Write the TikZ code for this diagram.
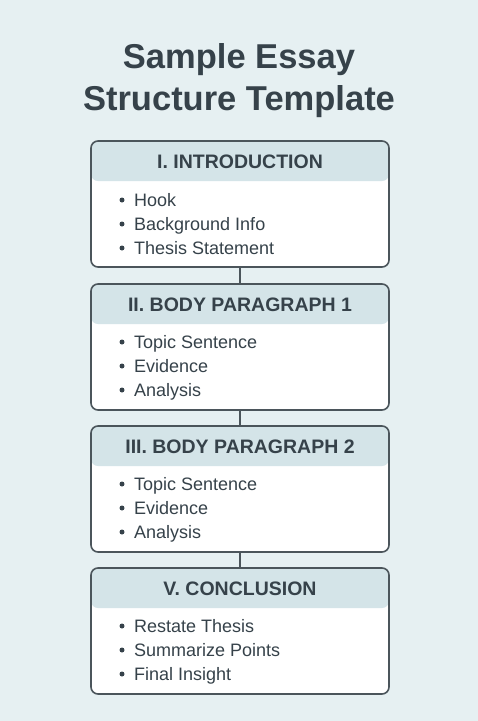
\documentclass[tikz,border=0pt]{standalone}
\usepackage{fontspec}
\setmainfont{Liberation Sans}
\definecolor{bgc}{HTML}{E6F0F2}
\definecolor{headc}{HTML}{D4E4E8}
\definecolor{borderc}{HTML}{4B555B}
\definecolor{textc}{HTML}{36424A}
\tikzset{
  essaybox/.style={draw=borderc, line width=1.6pt, fill=white, rounded corners=7pt,
    minimum width=298pt, minimum height=126pt, inner sep=0pt,
    path picture={\fill[headc] (path picture bounding box.north west) rectangle ([yshift=-40pt]path picture bounding box.north east);}},
  headtext/.style={text=textc, font=\fontsize{19.5}{21}\selectfont\bfseries, inner sep=0pt, anchor=base},
  itemtext/.style={text=textc, font=\fontsize{18}{20}\selectfont, anchor=base west, inner sep=0pt},
  bul/.style={fill=textc, circle, inner sep=0pt, minimum size=5pt},
  titletext/.style={text=textc, font=\fontsize{34.5}{42}\selectfont\bfseries, align=center, inner sep=0pt},
  link/.style={draw=borderc, line width=1.4pt}
}
\begin{document}
\begin{tikzpicture}[x=1pt,y=-1pt]
\useasboundingbox[fill=bgc] (0,0) rectangle (478,721);
\node[titletext] (title) at (239,81) {Sample Essay\\Structure Template};
% boxes
\node[essaybox] (b1) at (240,204) {};
\node[essaybox] (b2) at (240,347) {};
\node[essaybox] (b3) at (240,489) {};
\node[essaybox] (b4) at (240,631) {};
\draw[link] (b1.south) -- (b2.north);
\draw[link] (b2.south) -- (b3.north);
\draw[link] (b3.south) -- (b4.north);
% headers (baselines)
\node[headtext] (h1) at (240,168.5) {I. INTRODUCTION};
\node[headtext] (h2) at (240,311.5) {II. BODY PARAGRAPH 1};
\node[headtext] (h3) at (240,453.5) {III. BODY PARAGRAPH 2};
\node[headtext] (h4) at (240,595.5) {V. CONCLUSION};
% items box 1
\node[bul] (d11) at (122,200) {}; \node[itemtext] (i11) at (134,206.5) {Hook};
\node[bul] (d12) at (122,224) {}; \node[itemtext] (i12) at (134,230.5) {Background Info};
\node[bul] (d13) at (122,248) {}; \node[itemtext] (i13) at (134,254.5) {Thesis Statement};
% items box 2
\node[bul] (d21) at (122,342) {}; \node[itemtext] (i21) at (134,348.5) {Topic Sentence};
\node[bul] (d22) at (122,366) {}; \node[itemtext] (i22) at (134,372.5) {Evidence};
\node[bul] (d23) at (122,390) {}; \node[itemtext] (i23) at (134,396.5) {Analysis};
% items box 3
\node[bul] (d31) at (122,484) {}; \node[itemtext] (i31) at (134,490.5) {Topic Sentence};
\node[bul] (d32) at (122,508) {}; \node[itemtext] (i32) at (134,514.5) {Evidence};
\node[bul] (d33) at (122,532) {}; \node[itemtext] (i33) at (134,538.5) {Analysis};
% items box 4
\node[bul] (d41) at (122,626) {}; \node[itemtext] (i41) at (134,632.5) {Restate Thesis};
\node[bul] (d42) at (122,650) {}; \node[itemtext] (i42) at (134,656.5) {Summarize Points};
\node[bul] (d43) at (122,674) {}; \node[itemtext] (i43) at (134,680.5) {Final Insight};
\end{tikzpicture}
\end{document}
